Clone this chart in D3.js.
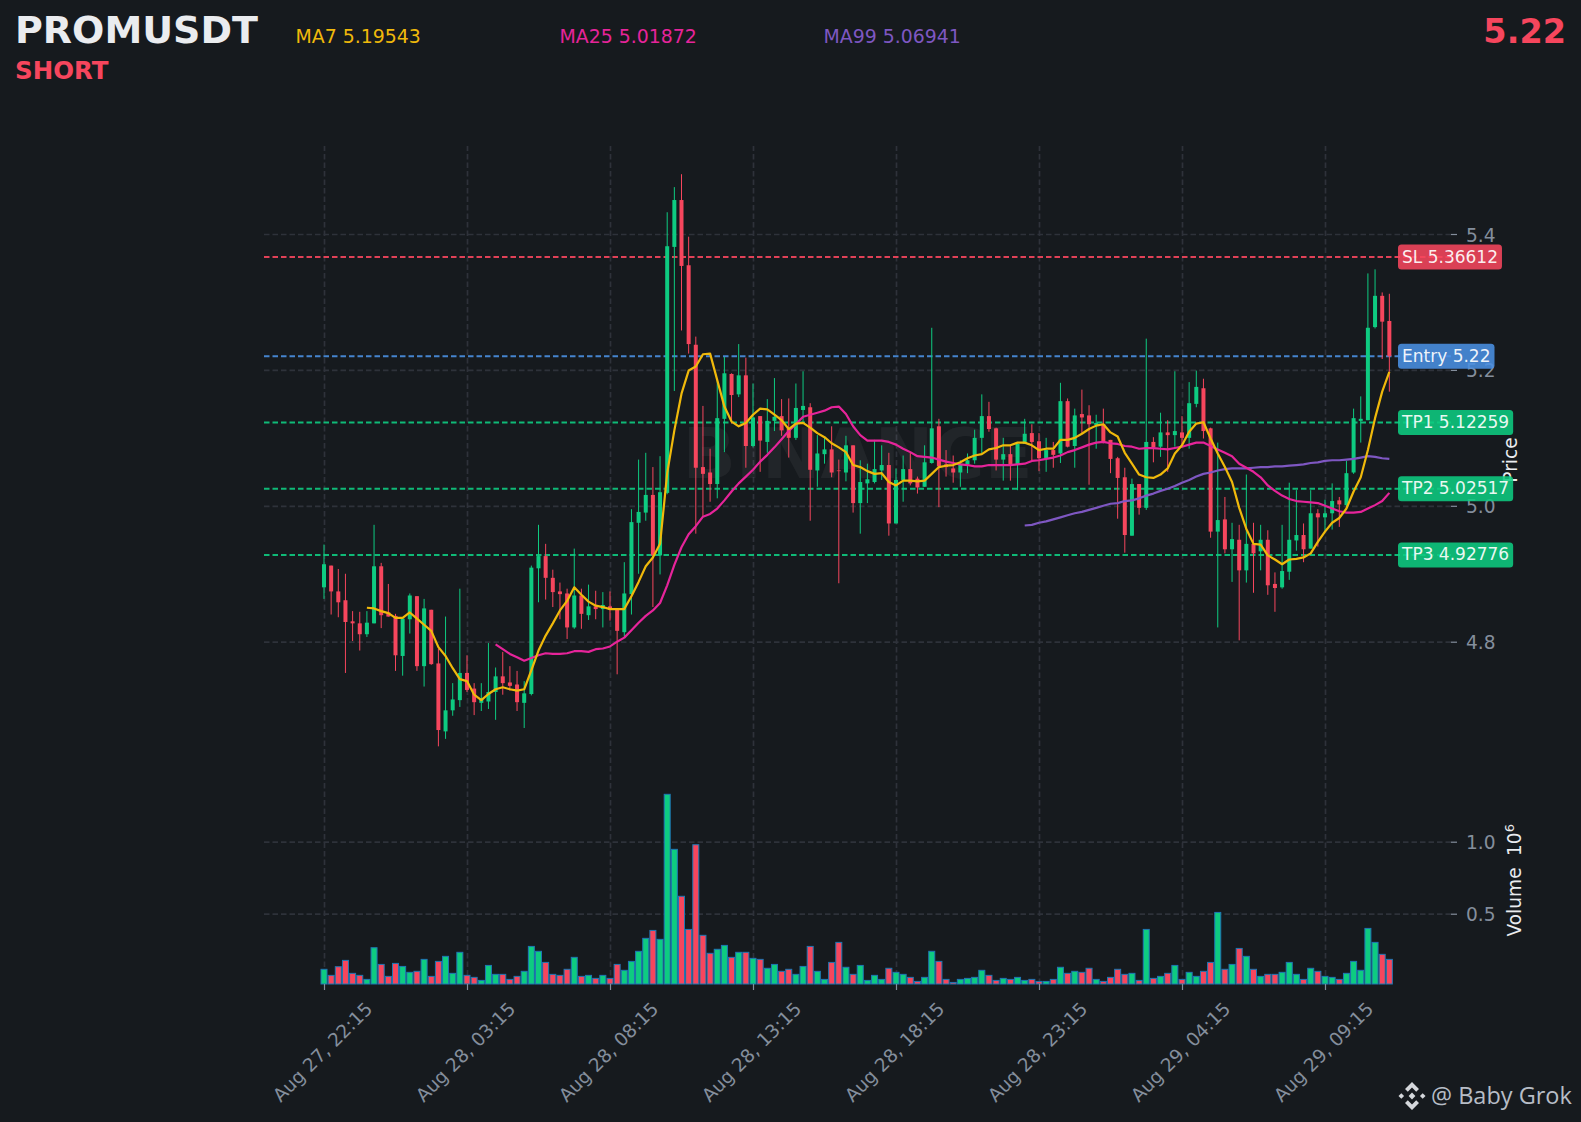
<!DOCTYPE html>
<html>
<head>
<meta charset="utf-8">
<script src="https://d3js.org/d3.v7.min.js"></script>
<style type="text/css">
  html, body { margin: 0; padding: 0; background: #161a1e; }
  svg { display: block; }
  text { font-family: "DejaVu Sans", sans-serif; }
</style>
</head>
<body>
<script type="text/javascript">

// 15 minute candles
var opens = [4.880,4.912,4.874,4.861,4.830,4.827,4.811,4.827,4.911,4.843,4.838,4.779,4.833,4.867,4.764,4.847,4.768,4.668,4.699,4.714,
  4.754,4.731,4.710,4.712,4.726,4.749,4.740,4.737,4.710,4.723,4.908,4.926,4.894,4.874,4.871,4.821,4.868,4.839,4.852,4.848,
  4.852,4.847,4.814,4.870,4.975,4.990,5.016,4.927,5.019,5.381,5.450,5.354,5.237,5.057,5.049,5.032,5.128,5.194,5.164,5.192,
  5.088,5.132,5.094,5.125,5.132,5.114,5.100,5.141,5.145,5.052,5.076,5.083,5.052,5.049,5.089,5.004,5.033,5.035,5.052,5.060,
  4.974,5.038,5.054,5.040,5.028,5.063,5.117,5.061,5.055,5.049,5.061,5.067,5.100,5.132,5.114,5.068,5.076,5.061,5.091,5.107,
  5.095,5.070,5.082,5.077,5.154,5.088,5.135,5.133,5.119,5.120,5.097,5.070,5.042,4.956,5.032,4.997,5.094,5.087,5.108,5.104,
  5.108,5.100,5.150,5.173,5.114,4.962,4.980,4.936,4.950,4.905,4.944,4.933,4.950,4.885,4.880,4.903,4.949,4.957,4.937,4.989,
  4.983,4.989,5.008,5.001,5.049,5.125,5.126,5.263,5.309,5.272];
var highs = [4.943,4.912,4.907,4.900,4.845,4.844,4.845,4.972,4.916,4.885,4.841,4.836,4.871,4.867,4.863,4.847,4.790,4.837,4.739,4.878,
  4.780,4.739,4.739,4.798,4.762,4.785,4.764,4.757,4.742,4.912,4.972,4.944,4.906,4.887,4.878,4.937,4.878,4.884,4.875,4.873,
  4.874,4.847,4.917,4.995,5.068,5.078,5.057,5.073,5.432,5.469,5.488,5.396,5.249,5.147,5.084,5.185,5.219,5.195,5.238,5.218,
  5.180,5.132,5.157,5.188,5.157,5.158,5.180,5.198,5.151,5.104,5.101,5.117,5.068,5.103,5.089,5.067,5.062,5.097,5.089,5.078,
  5.055,5.074,5.078,5.043,5.089,5.262,5.128,5.082,5.074,5.067,5.077,5.112,5.164,5.153,5.115,5.100,5.089,5.092,5.128,5.120,
  5.107,5.100,5.094,5.181,5.158,5.143,5.171,5.148,5.134,5.143,5.097,5.072,5.056,5.040,5.032,5.246,5.101,5.137,5.126,5.198,
  5.132,5.182,5.199,5.187,5.115,5.093,5.013,4.975,4.972,5.046,4.975,4.972,4.964,4.902,4.972,5.034,5.023,4.974,5.023,4.995,
  5.009,5.033,5.013,5.066,5.143,5.161,5.342,5.348,5.314,5.312];
var lows = [4.863,4.840,4.836,4.754,4.801,4.787,4.807,4.827,4.820,4.837,4.757,4.750,4.812,4.757,4.734,4.766,4.646,4.657,4.691,4.704,
  4.726,4.692,4.698,4.701,4.685,4.722,4.728,4.698,4.673,4.721,4.858,4.862,4.851,4.833,4.804,4.819,4.819,4.832,4.833,4.821,
  4.831,4.752,4.808,4.840,4.900,4.978,4.851,4.899,5.017,5.169,5.258,5.224,4.959,4.984,5.006,5.011,5.079,5.121,5.160,5.056,
  5.086,5.050,5.078,5.110,5.103,5.071,5.097,5.121,4.978,5.028,5.062,5.042,4.886,5.036,4.990,4.959,5.004,5.033,5.038,4.956,
  4.974,5.006,5.030,5.018,5.028,5.062,4.998,5.043,5.034,5.028,5.048,5.062,5.077,5.109,5.052,5.037,5.037,5.023,5.091,5.067,
  5.051,5.050,5.056,5.063,5.086,5.056,5.106,5.031,5.084,5.092,5.048,4.981,4.931,4.956,4.987,4.994,5.064,5.072,5.050,5.087,
  5.087,5.084,5.145,5.099,4.953,4.821,4.930,4.888,4.802,4.887,4.872,4.905,4.869,4.844,4.878,4.891,4.934,4.917,4.937,4.940,
  4.962,4.965,4.969,4.994,5.047,5.093,5.126,5.261,5.216,5.168];
var closes = [4.914,4.874,4.858,4.829,4.827,4.811,4.828,4.911,4.839,4.837,4.780,4.834,4.868,4.764,4.849,4.767,4.670,4.699,4.715,4.754,
  4.729,4.711,4.717,4.726,4.749,4.739,4.735,4.711,4.724,4.909,4.926,4.894,4.873,4.870,4.821,4.868,4.841,4.852,4.848,4.854,
  4.847,4.816,4.871,4.976,4.991,5.016,4.927,5.020,5.382,5.450,5.353,5.238,5.056,5.047,5.032,5.129,5.195,5.163,5.192,5.088,
  5.130,5.096,5.125,5.131,5.111,5.100,5.144,5.147,5.053,5.077,5.083,5.049,5.051,5.089,5.004,5.035,5.039,5.054,5.060,4.974,
  5.038,5.054,5.033,5.027,5.064,5.114,5.058,5.057,5.049,5.062,5.067,5.100,5.132,5.113,5.068,5.076,5.061,5.091,5.106,5.094,
  5.070,5.082,5.075,5.154,5.087,5.133,5.130,5.120,5.122,5.094,5.069,5.041,4.957,5.032,4.997,5.094,5.086,5.108,5.104,5.110,
  5.100,5.151,5.175,5.110,4.962,4.979,4.936,4.951,4.905,4.944,4.930,4.950,4.883,4.879,4.904,4.950,4.957,4.936,4.989,4.983,
  4.989,5.007,5.002,5.048,5.129,5.128,5.262,5.309,5.271,5.220];
var volumes = [.114,.072,.132,.176,.086,.072,.044,.264,.148,.065,.155,.134,.093,.100,.183,.065,.169,.204,.086,.232,
  .072,.058,.037,.141,.079,.079,.044,.065,.100,.273,.239,.162,.079,.072,.114,.197,.065,.072,.051,.072,
  .051,.148,.107,.169,.239,.329,.384,.322,1.329,.947,.621,.391,.979,.350,.225,.253,.280,.197,.232,.232,
  .190,.183,.121,.148,.100,.114,.079,.134,.273,.100,.044,.162,.301,.128,.079,.141,.037,.072,.044,.121,
  .093,.079,.058,.030,.058,.239,.169,.044,.023,.044,.051,.058,.107,.072,.037,.051,.044,.058,.037,.044,
  .030,.030,.044,.128,.086,.100,.093,.121,.044,.030,.058,.114,.079,.086,.037,.391,.051,.065,.086,.141,
  .044,.093,.065,.100,.162,.509,.114,.148,.259,.204,.114,.065,.079,.079,.093,.162,.079,.044,.121,.100,
  .065,.058,.044,.086,.169,.107,.398,.301,.218,.183];

// moving averages, first value sits on candle 6, 24 and 98
var ma7Start = 6;
var ma7 = [4.850,4.849,4.845,4.842,4.835,4.835,4.843,4.834,4.825,4.816,4.792,4.779,4.761,4.745,4.742,4.722,4.714,4.723,4.730,4.733,
  4.730,4.728,4.730,4.758,4.787,4.809,4.827,4.846,4.860,4.880,4.869,4.859,4.853,4.851,4.848,4.848,4.848,4.867,4.888,4.911,
  4.924,4.944,5.048,5.111,5.165,5.199,5.205,5.223,5.224,5.185,5.146,5.124,5.117,5.122,5.134,5.143,5.142,5.134,5.126,5.113,
  5.121,5.122,5.115,5.107,5.101,5.092,5.086,5.079,5.060,5.057,5.051,5.047,5.048,5.035,5.030,5.037,5.037,5.036,5.037,5.047,
  5.057,5.059,5.060,5.064,5.070,5.074,5.076,5.083,5.085,5.089,5.089,5.093,5.093,5.089,5.082,5.084,5.084,5.097,5.097,5.100,
  5.106,5.113,5.118,5.120,5.108,5.102,5.078,5.062,5.046,5.042,5.041,5.046,5.055,5.077,5.089,5.109,5.121,5.123,5.099,5.077,
  5.057,5.035,4.997,4.966,4.944,4.943,4.927,4.921,4.914,4.921,4.922,4.924,4.930,4.947,4.962,4.975,4.982,4.996,5.021,5.042,
  5.082,5.129,5.168,5.197];
var ma25Start = 24;
var ma25 = [4.796,4.789,4.782,4.777,4.772,4.776,4.780,4.783,4.782,4.782,4.783,4.786,4.786,4.785,4.789,4.790,4.793,4.800,4.806,4.817,
  4.828,4.838,4.846,4.857,4.883,4.913,4.939,4.958,4.970,4.984,4.988,4.996,5.008,5.021,5.033,5.043,5.053,5.065,5.075,5.086,
  5.098,5.110,5.120,5.131,5.134,5.137,5.140,5.145,5.146,5.135,5.117,5.104,5.096,5.096,5.096,5.094,5.090,5.084,5.079,5.073,
  5.072,5.071,5.068,5.065,5.063,5.061,5.060,5.058,5.058,5.060,5.060,5.060,5.060,5.061,5.062,5.066,5.067,5.069,5.071,5.074,
  5.079,5.082,5.086,5.090,5.093,5.094,5.092,5.091,5.088,5.087,5.084,5.085,5.085,5.084,5.083,5.085,5.087,5.090,5.093,5.093,
  5.088,5.083,5.078,5.073,5.062,5.056,5.050,5.042,5.030,5.022,5.015,5.010,5.007,5.006,5.005,5.004,5.000,4.996,4.992,4.990,
  4.990,4.991,4.996,5.001,5.007,5.019];
var ma99Start = 98;
var ma99 = [4.971,4.972,4.975,4.977,4.980,4.983,4.986,4.989,4.991,4.994,4.997,5.000,5.003,5.004,5.007,5.008,5.011,5.015,5.018,5.022,
  5.025,5.029,5.034,5.038,5.043,5.047,5.049,5.052,5.054,5.055,5.055,5.055,5.056,5.057,5.057,5.058,5.058,5.059,5.060,5.061,
  5.063,5.064,5.066,5.067,5.067,5.068,5.069,5.071,5.073,5.072,5.070,5.069];

var tickCandles = [0, 20, 40, 60, 80, 100, 120, 140];
var tickLabels = ["Aug 27, 22:15", "Aug 28, 03:15", "Aug 28, 08:15", "Aug 28, 13:15", "Aug 28, 18:15", "Aug 28, 23:15", "Aug 29, 04:15", "Aug 29, 09:15"];
var priceTicks = [4.8, 5.0, 5.2, 5.4];
var volumeTicks = [0.5, 1.0];

var levelNames = ["SL", "Entry", "TP1", "TP2", "TP3"];
var levelPrices = [5.36612, 5.22, 5.12259, 5.02517, 4.92776];
var levelLabels = ["5.36612", "5.22", "5.12259", "5.02517", "4.92776"];
var levelColors = ["#f6465d", "#4a90e2", "#0ecb81", "#0ecb81", "#0ecb81"];

var maNames = ["MA7 5.19543", "MA25 5.01872", "MA99 5.06941"];
var maColors = ["#f0b90b", "#e6249a", "#7e57c2"];

var up = "#0ecb81", down = "#f6465d", gridColor = "#2e323a", muted = "#848e9c";

var width = 1581, height = 1122;
var left = 264, right = 1451, top_ = 146, bottom = 984;

var svg = d3.select("body").append("svg")
    .attr("width", width)
    .attr("height", height);

svg.append("rect").attr("width", width).attr("height", height).attr("fill", "#161a1e");

var x = d3.scaleLinear().domain([0, 149]).range([324, 1389.35]);
var y = d3.scaleLinear().domain([4.8, 5.4]).range([641.7, 234]);
var yVol = d3.scaleLinear().domain([0.012, 1.0]).range([bottom, 841.7]);

/////////////////////////
// grid, built from the axes

function dashGrid(g) {
  g.select(".domain").remove();
  g.selectAll("text").remove();
  g.selectAll("line").attr("stroke", gridColor).attr("stroke-width", 1.7).attr("stroke-dasharray", "5.5,3");
}

svg.append("g").attr("transform", "translate(0," + bottom + ")")
  .call(d3.axisTop(x).tickValues(tickCandles).tickSize(bottom - top_))
  .call(dashGrid);
svg.append("g").attr("transform", "translate(" + right + ",0)")
  .call(d3.axisLeft(y).tickValues(priceTicks).tickSize(right - left))
  .call(dashGrid);
svg.append("g").attr("transform", "translate(" + right + ",0)")
  .call(d3.axisLeft(yVol).tickValues(volumeTicks).tickSize(right - left))
  .call(dashGrid);

// watermark
svg.append("text")
    .attr("x", (left + right) / 2)
    .attr("y", 478)
    .attr("text-anchor", "middle")
    .attr("font-size", 70)
    .attr("font-weight", "bold")
    .attr("fill", "#ffffff")
    .attr("fill-opacity", 0.05)
    .text("BINANCE");

// entry, stop and targets
svg.selectAll(".level")
    .data(levelPrices)
  .enter().append("line")
    .attr("class", "level")
    .attr("x1", left)
    .attr("x2", right)
    .attr("y1", function(d) { return y(d); })
    .attr("y2", function(d) { return y(d); })
    .attr("stroke", function(d, i) { return levelColors[i]; })
    .attr("stroke-opacity", 0.9)
    .attr("stroke-width", 2)
    .attr("stroke-dasharray", "5.5,3");

/////////////////////////
// candles

var candles = svg.selectAll(".candle")
    .data(d3.range(opens.length))
  .enter().append("g")
    .attr("class", "candle")
    .attr("fill", function(i) { return closes[i] >= opens[i] ? up : down; })
    .attr("stroke", function(i) { return closes[i] >= opens[i] ? up : down; });

candles.append("line")
    .attr("x1", function(i) { return x(i); })
    .attr("x2", function(i) { return x(i); })
    .attr("y1", function(i) { return y(highs[i]); })
    .attr("y2", function(i) { return y(lows[i]); })
    .attr("stroke-width", 1);

candles.append("rect")
    .attr("x", function(i) { return x(i) - 2; })
    .attr("width", 4)
    .attr("y", function(i) { return y(Math.max(opens[i], closes[i])); })
    .attr("height", function(i) { return Math.abs(y(opens[i]) - y(closes[i])); })
    .attr("stroke", "none");

// moving averages
function drawMa(values, start, color) {
  var line = d3.line()
      .x(function(d, i) { return x(i + start); })
      .y(function(d) { return y(d); });
  svg.append("path")
      .attr("d", line(values))
      .attr("fill", "none")
      .attr("stroke", color)
      .attr("stroke-width", 2.2)
      .attr("stroke-linejoin", "round");
}
drawMa(ma99, ma99Start, maColors[2]);
drawMa(ma25, ma25Start, maColors[1]);
drawMa(ma7, ma7Start, maColors[0]);

// volume
svg.selectAll(".vol")
    .data(volumes)
  .enter().append("rect")
    .attr("class", "vol")
    .attr("x", function(d, i) { return x(i) - 3; })
    .attr("width", 6)
    .attr("y", function(d) { return yVol(d); })
    .attr("height", function(d) { return bottom - yVol(d); })
    .attr("fill", function(d, i) { return closes[i] >= opens[i] ? up : down; })
    .attr("stroke", "#1f77b4")
    .attr("stroke-width", 1);

/////////////////////////
// axes

function styleAxis(g) {
  g.select(".domain").remove();
  g.selectAll("line").attr("stroke", muted).attr("stroke-width", 1.2);
  g.selectAll("text").attr("fill", muted).attr("font-size", 18.6).attr("font-family", "DejaVu Sans").attr("dy", "0.38em");
}

svg.append("g").attr("transform", "translate(" + right + ",0)")
  .call(d3.axisRight(y).tickValues(priceTicks).tickSize(6).tickPadding(9).tickFormat(d3.format(".1f")))
  .call(styleAxis);

svg.append("g").attr("transform", "translate(" + right + ",0)")
  .call(d3.axisRight(yVol).tickValues(volumeTicks).tickSize(6).tickPadding(9).tickFormat(d3.format(".1f")))
  .call(styleAxis);

svg.append("g").attr("transform", "translate(0," + bottom + ")")
  .call(d3.axisBottom(x).tickValues(tickCandles).tickSize(6).tickFormat(function(d, i) { return tickLabels[i]; }))
  .call(styleAxis)
  .selectAll("text")
    .attr("text-anchor", "middle")
    .attr("dy", "0.35em")
    .attr("y", 0)
    .attr("transform", "translate(-2,68) rotate(-45)");

svg.append("text")
    .attr("transform", "translate(1517,460) rotate(-90)")
    .attr("text-anchor", "middle")
    .attr("font-size", 18.6)
    .attr("fill", "#eaecef")
    .text("Price");

svg.append("text")
    .attr("transform", "translate(1521,902) rotate(-90)")
    .attr("text-anchor", "middle")
    .attr("font-size", 18.6)
    .attr("fill", "#eaecef")
    .text("Volume");

var offset = svg.append("text")
    .attr("transform", "translate(1521,840) rotate(-90)")
    .attr("text-anchor", "middle")
    .attr("font-size", 18.6)
    .attr("fill", "#eaecef");
offset.append("tspan").text("10");
offset.append("tspan").attr("font-size", 13).attr("dy", -7).text("6");

/////////////////////////
// level tags

var tags = svg.selectAll(".tag")
    .data(levelPrices)
  .enter().append("g")
    .attr("class", "tag")
    .attr("transform", function(d) { return "translate(1398," + y(d) + ")"; });

tags.append("rect")
    .attr("y", -12.5)
    .attr("height", 25)
    .attr("rx", 3.5)
    .attr("fill", function(d, i) { return levelColors[i]; })
    .attr("fill-opacity", 0.88);

tags.append("text")
    .attr("x", 4)
    .attr("y", 5.5)
    .attr("font-size", 17)
    .attr("fill", "#ffffff")
    .attr("fill-opacity", 0.92)
    .text(function(d, i) { return levelNames[i] + " " + levelLabels[i]; });

tags.each(function() {
  var g = d3.select(this);
  g.select("rect").attr("width", g.select("text").node().getComputedTextLength() + 8);
});

/////////////////////////
// header

svg.append("text").attr("x", 15).attr("y", 43)
    .attr("font-size", 38).attr("font-weight", "bold").attr("fill", "#eaecef")
    .text("PROMUSDT");

svg.append("text").attr("x", 15).attr("y", 79)
    .attr("font-size", 24.5).attr("font-weight", "bold").attr("fill", down)
    .text("SHORT");

svg.selectAll(".ma-name")
    .data(maNames)
  .enter().append("text")
    .attr("class", "ma-name")
    .attr("x", function(d, i) { return 295.5 + i * 264; })
    .attr("y", 43)
    .attr("font-size", 18.9)
    .attr("fill", function(d, i) { return maColors[i]; })
    .text(function(d) { return d; });

svg.append("text").attr("x", 1566).attr("y", 43)
    .attr("text-anchor", "end")
    .attr("font-size", 33.5).attr("font-weight", "bold").attr("fill", down)
    .text("5.22");

// credit, bottom right
var logo = svg.append("g").attr("transform", "translate(1412,1096)").attr("fill", "#d5d8dc");
logo.append("path").attr("d", "M0,-14L7,-7L4.2,-4.2L0,-8.4L-4.2,-4.2L-7,-7Z");
logo.append("path").attr("d", "M0,14L7,7L4.2,4.2L0,8.4L-4.2,4.2L-7,7Z");
logo.append("path").attr("d", "M-13.5,0L-10.7,-2.8L-7.9,0L-10.7,2.8Z");
logo.append("path").attr("d", "M13.5,0L10.7,-2.8L7.9,0L10.7,2.8Z");
logo.append("path").attr("d", "M0,-3.4L3.4,0L0,3.4L-3.4,0Z");

svg.append("text").attr("x", 1431).attr("y", 1104)
    .attr("style", "font-family:'Open Sans'")
    .attr("font-size", 23.5)
    .attr("fill", "#b7bdc6")
    .text("@ Baby Grok");

</script>
</body>
</html>
